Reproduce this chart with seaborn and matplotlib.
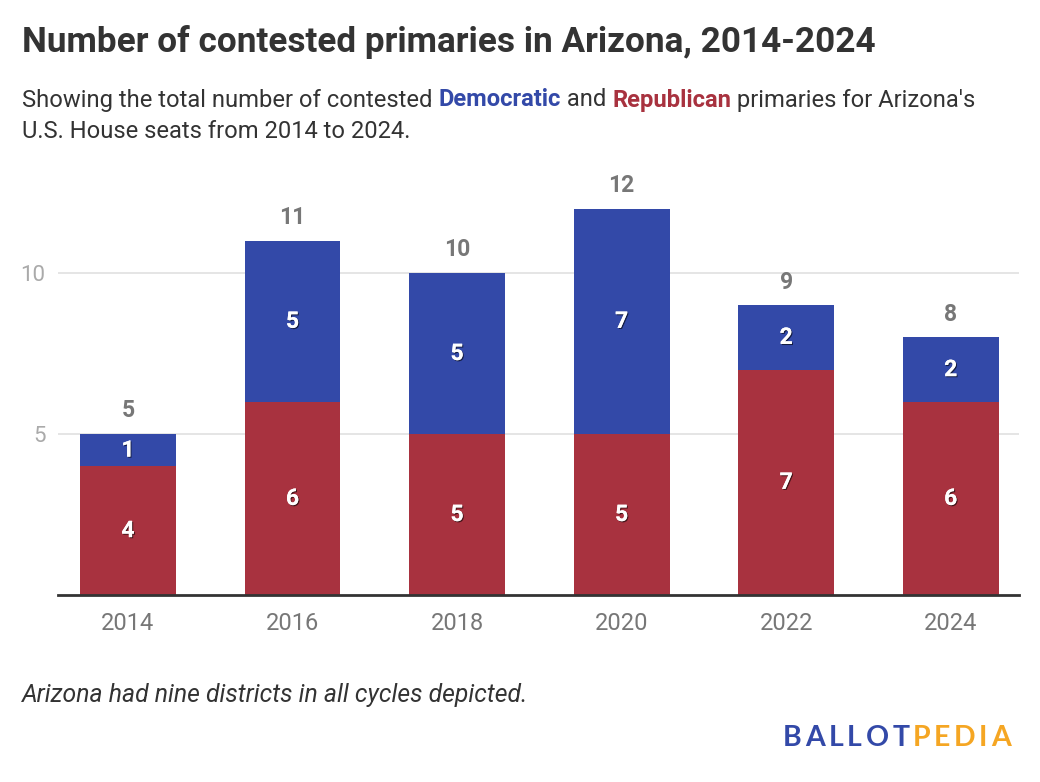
import matplotlib
matplotlib.use("Agg")
import matplotlib.pyplot as plt
import matplotlib.patheffects as pe
import seaborn as sns
import pandas as pd

years = ["2014", "2016", "2018", "2020", "2022", "2024"]
republican = [4, 6, 5, 5, 7, 6]
democratic = [1, 5, 5, 7, 2, 2]
totals = [r + d for r, d in zip(republican, democratic)]
yticks = [5, 10]

BLUE = "#3349a8"
RED = "#a8323f"
GRAY = "#777777"

sns.set_theme(style="white")
plt.rcParams["font.family"] = ["Roboto", "DejaVu Sans"]

df = pd.DataFrame({"year": years, "rep": republican, "dem": democratic, "total": totals})

fig = plt.figure(figsize=(10.4, 7.82), dpi=100)
ax = fig.add_axes([0.0558, 0.2391, 0.9240, 0.5435])

sns.barplot(data=df, x="year", y="total", color=BLUE, saturation=1, width=0.583,
            linewidth=0, ax=ax)
sns.barplot(data=df, x="year", y="rep", color=RED, saturation=1, width=0.583,
            linewidth=0, ax=ax)

ax.set_xlim(-0.425, 5.415)
ax.set_ylim(0, 13.2)
ax.set_yticks(yticks)
ax.set_yticklabels([str(t) for t in yticks])
ax.set_xlabel("")
ax.set_ylabel("")
ax.grid(axis="y", color="#e3e3e3", linewidth=1.3)
ax.set_axisbelow(True)
for s in ["top", "right", "left"]:
    ax.spines[s].set_visible(False)
ax.spines["bottom"].set_color("#333333")
ax.spines["bottom"].set_linewidth(2)
ax.tick_params(axis="both", length=0)
ax.tick_params(axis="x", labelsize=17, labelcolor=GRAY, pad=12)
ax.tick_params(axis="y", labelsize=16, labelcolor="#aaaaaa", pad=9)

shadow = [pe.withSimplePatchShadow(offset=(0.8, -0.8), shadow_rgbFace="#000000", alpha=0.6), pe.Normal()]
for i, (r, d, t) in enumerate(zip(republican, democratic, totals)):
    ax.text(i, r / 2, str(r), ha="center", va="center", color="white",
            fontsize=16.5, fontweight="bold", path_effects=shadow)
    ax.text(i, r + d / 2, str(d), ha="center", va="center", color="white",
            fontsize=16.5, fontweight="bold", path_effects=shadow)
    ax.text(i, t + 0.72, str(t), ha="center", va="center", color=GRAY,
            fontsize=16.5, fontweight="bold", clip_on=False)

# Title
fig.text(22 / 1040, 1 - 42 / 782, "Number of contested primaries in Arizona, 2014-2024",
         fontsize=25.3, fontweight="bold", color="#333333", va="center", ha="left")

# Subtitle with colored words
fig.canvas.draw()
renderer = fig.canvas.get_renderer()

def chain(x_px, y_px, parts, size, **kw):
    x = x_px
    for txt, col, wt in parts:
        t = fig.text(x / 1040, 1 - y_px / 782, txt, fontsize=size, color=col,
                     fontweight=wt, va="center", ha="left", **kw)
        bb = t.get_window_extent(renderer=renderer)
        x = bb.x1

chain(22, 100, [("Showing the total number of contested ", "#333333", "normal"),
                ("Democratic", BLUE, "bold"),
                (" and ", "#333333", "normal"),
                ("Republican", RED, "bold"),
                (" primaries for Arizona's", "#333333", "normal")], 17.1)
fig.text(22 / 1040, 1 - 132 / 782, "U.S. House seats from 2014 to 2024.",
         fontsize=17.1, color="#333333", va="center", ha="left")

# Footnote
fig.text(22 / 1040, 1 - 695 / 782, "Arizona had nine districts in all cycles depicted.",
         fontsize=17.8, color="#333333", style="italic", va="center", ha="left")

# Logo
x = 783
for txt, col in [("BALLOT", BLUE), ("PEDIA", "#f5a623")]:
    for ch in txt:
        t = fig.text(x / 1040, 1 - 738 / 782, ch, fontsize=20.5, color=col,
                     fontweight="bold", family=["Lato", "DejaVu Sans"], va="center", ha="left")
        bb = t.get_window_extent(renderer=renderer)
        x = bb.x1 + 3.6

fig.savefig("out.png", dpi=100)
